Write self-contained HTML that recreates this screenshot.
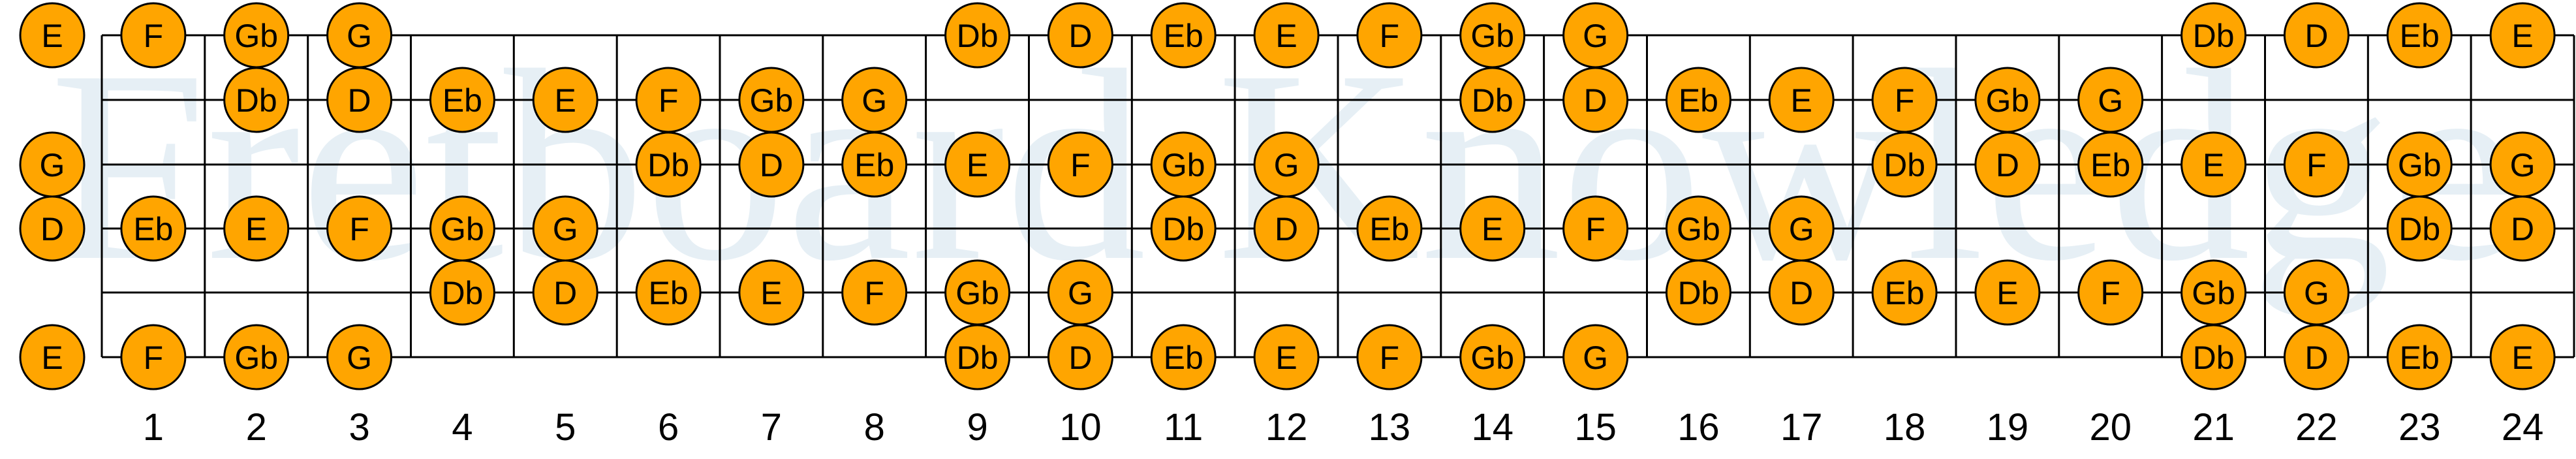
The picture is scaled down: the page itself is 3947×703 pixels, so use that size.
<!DOCTYPE html>
<html><head><meta charset="utf-8"><style>
html,body{margin:0;padding:0;background:#fff}
svg{display:block}
.n circle{fill:#ffa500;stroke:#000;stroke-width:3}
.n text{font-family:"Liberation Sans",sans-serif;font-size:50px;text-anchor:middle;fill:#000}
.num{font-family:"Liberation Sans",sans-serif;font-size:58px;text-anchor:middle;fill:#000}
</style></head><body>
<svg width="3947" height="703" viewBox="0 0 3947 703" xmlns="http://www.w3.org/2000/svg">
<text x="76" y="395" textLength="3780" lengthAdjust="spacingAndGlyphs" font-family="Liberation Serif,serif" font-size="420" fill="#e6eff5">Fretboard Knowledge</text>
<g stroke="#000" stroke-width="3" fill="none">
<path d="M156 54H3944M156 153H3944M156 252H3944M156 350H3944M156 448H3944M156 547H3944"/>
<path d="M156 54V547M313.8 54V547M471.7 54V547M629.5 54V547M787.3 54V547M945.2 54V547M1103 54V547M1260.8 54V547M1418.6 54V547M1576.5 54V547M1734.3 54V547M1892.1 54V547M2050 54V547M2207.8 54V547M2365.6 54V547M2523.5 54V547M2681.3 54V547M2839.1 54V547M2997 54V547M3154.8 54V547M3312.6 54V547M3470.5 54V547M3628.3 54V547M3786.1 54V547M3944 54V547"/>
</g>
<g class="n">
<g transform="translate(80,54)"><circle r="49"/><text y="18">E</text></g>
<g transform="translate(234.9,54)"><circle r="49"/><text y="18">F</text></g>
<g transform="translate(392.7,54)"><circle r="49"/><text y="18">Gb</text></g>
<g transform="translate(550.6,54)"><circle r="49"/><text y="18">G</text></g>
<g transform="translate(1497.6,54)"><circle r="49"/><text y="18">Db</text></g>
<g transform="translate(1655.4,54)"><circle r="49"/><text y="18">D</text></g>
<g transform="translate(1813.2,54)"><circle r="49"/><text y="18">Eb</text></g>
<g transform="translate(1971.1,54)"><circle r="49"/><text y="18">E</text></g>
<g transform="translate(2128.9,54)"><circle r="49"/><text y="18">F</text></g>
<g transform="translate(2286.7,54)"><circle r="49"/><text y="18">Gb</text></g>
<g transform="translate(2444.6,54)"><circle r="49"/><text y="18">G</text></g>
<g transform="translate(3391.6,54)"><circle r="49"/><text y="18">Db</text></g>
<g transform="translate(3549.4,54)"><circle r="49"/><text y="18">D</text></g>
<g transform="translate(3707.2,54)"><circle r="49"/><text y="18">Eb</text></g>
<g transform="translate(3865.1,54)"><circle r="49"/><text y="18">E</text></g>
<g transform="translate(392.7,153)"><circle r="49"/><text y="18">Db</text></g>
<g transform="translate(550.6,153)"><circle r="49"/><text y="18">D</text></g>
<g transform="translate(708.4,153)"><circle r="49"/><text y="18">Eb</text></g>
<g transform="translate(866.2,153)"><circle r="49"/><text y="18">E</text></g>
<g transform="translate(1024.1,153)"><circle r="49"/><text y="18">F</text></g>
<g transform="translate(1181.9,153)"><circle r="49"/><text y="18">Gb</text></g>
<g transform="translate(1339.7,153)"><circle r="49"/><text y="18">G</text></g>
<g transform="translate(2286.7,153)"><circle r="49"/><text y="18">Db</text></g>
<g transform="translate(2444.6,153)"><circle r="49"/><text y="18">D</text></g>
<g transform="translate(2602.4,153)"><circle r="49"/><text y="18">Eb</text></g>
<g transform="translate(2760.2,153)"><circle r="49"/><text y="18">E</text></g>
<g transform="translate(2918.1,153)"><circle r="49"/><text y="18">F</text></g>
<g transform="translate(3075.9,153)"><circle r="49"/><text y="18">Gb</text></g>
<g transform="translate(3233.7,153)"><circle r="49"/><text y="18">G</text></g>
<g transform="translate(80,252)"><circle r="49"/><text y="18">G</text></g>
<g transform="translate(1024.1,252)"><circle r="49"/><text y="18">Db</text></g>
<g transform="translate(1181.9,252)"><circle r="49"/><text y="18">D</text></g>
<g transform="translate(1339.7,252)"><circle r="49"/><text y="18">Eb</text></g>
<g transform="translate(1497.6,252)"><circle r="49"/><text y="18">E</text></g>
<g transform="translate(1655.4,252)"><circle r="49"/><text y="18">F</text></g>
<g transform="translate(1813.2,252)"><circle r="49"/><text y="18">Gb</text></g>
<g transform="translate(1971.1,252)"><circle r="49"/><text y="18">G</text></g>
<g transform="translate(2918.1,252)"><circle r="49"/><text y="18">Db</text></g>
<g transform="translate(3075.9,252)"><circle r="49"/><text y="18">D</text></g>
<g transform="translate(3233.7,252)"><circle r="49"/><text y="18">Eb</text></g>
<g transform="translate(3391.6,252)"><circle r="49"/><text y="18">E</text></g>
<g transform="translate(3549.4,252)"><circle r="49"/><text y="18">F</text></g>
<g transform="translate(3707.2,252)"><circle r="49"/><text y="18">Gb</text></g>
<g transform="translate(3865.1,252)"><circle r="49"/><text y="18">G</text></g>
<g transform="translate(80,350)"><circle r="49"/><text y="18">D</text></g>
<g transform="translate(234.9,350)"><circle r="49"/><text y="18">Eb</text></g>
<g transform="translate(392.7,350)"><circle r="49"/><text y="18">E</text></g>
<g transform="translate(550.6,350)"><circle r="49"/><text y="18">F</text></g>
<g transform="translate(708.4,350)"><circle r="49"/><text y="18">Gb</text></g>
<g transform="translate(866.2,350)"><circle r="49"/><text y="18">G</text></g>
<g transform="translate(1813.2,350)"><circle r="49"/><text y="18">Db</text></g>
<g transform="translate(1971.1,350)"><circle r="49"/><text y="18">D</text></g>
<g transform="translate(2128.9,350)"><circle r="49"/><text y="18">Eb</text></g>
<g transform="translate(2286.7,350)"><circle r="49"/><text y="18">E</text></g>
<g transform="translate(2444.6,350)"><circle r="49"/><text y="18">F</text></g>
<g transform="translate(2602.4,350)"><circle r="49"/><text y="18">Gb</text></g>
<g transform="translate(2760.2,350)"><circle r="49"/><text y="18">G</text></g>
<g transform="translate(3707.2,350)"><circle r="49"/><text y="18">Db</text></g>
<g transform="translate(3865.1,350)"><circle r="49"/><text y="18">D</text></g>
<g transform="translate(708.4,448)"><circle r="49"/><text y="18">Db</text></g>
<g transform="translate(866.2,448)"><circle r="49"/><text y="18">D</text></g>
<g transform="translate(1024.1,448)"><circle r="49"/><text y="18">Eb</text></g>
<g transform="translate(1181.9,448)"><circle r="49"/><text y="18">E</text></g>
<g transform="translate(1339.7,448)"><circle r="49"/><text y="18">F</text></g>
<g transform="translate(1497.6,448)"><circle r="49"/><text y="18">Gb</text></g>
<g transform="translate(1655.4,448)"><circle r="49"/><text y="18">G</text></g>
<g transform="translate(2602.4,448)"><circle r="49"/><text y="18">Db</text></g>
<g transform="translate(2760.2,448)"><circle r="49"/><text y="18">D</text></g>
<g transform="translate(2918.1,448)"><circle r="49"/><text y="18">Eb</text></g>
<g transform="translate(3075.9,448)"><circle r="49"/><text y="18">E</text></g>
<g transform="translate(3233.7,448)"><circle r="49"/><text y="18">F</text></g>
<g transform="translate(3391.6,448)"><circle r="49"/><text y="18">Gb</text></g>
<g transform="translate(3549.4,448)"><circle r="49"/><text y="18">G</text></g>
<g transform="translate(80,547)"><circle r="49"/><text y="18">E</text></g>
<g transform="translate(234.9,547)"><circle r="49"/><text y="18">F</text></g>
<g transform="translate(392.7,547)"><circle r="49"/><text y="18">Gb</text></g>
<g transform="translate(550.6,547)"><circle r="49"/><text y="18">G</text></g>
<g transform="translate(1497.6,547)"><circle r="49"/><text y="18">Db</text></g>
<g transform="translate(1655.4,547)"><circle r="49"/><text y="18">D</text></g>
<g transform="translate(1813.2,547)"><circle r="49"/><text y="18">Eb</text></g>
<g transform="translate(1971.1,547)"><circle r="49"/><text y="18">E</text></g>
<g transform="translate(2128.9,547)"><circle r="49"/><text y="18">F</text></g>
<g transform="translate(2286.7,547)"><circle r="49"/><text y="18">Gb</text></g>
<g transform="translate(2444.6,547)"><circle r="49"/><text y="18">G</text></g>
<g transform="translate(3391.6,547)"><circle r="49"/><text y="18">Db</text></g>
<g transform="translate(3549.4,547)"><circle r="49"/><text y="18">D</text></g>
<g transform="translate(3707.2,547)"><circle r="49"/><text y="18">Eb</text></g>
<g transform="translate(3865.1,547)"><circle r="49"/><text y="18">E</text></g>
</g>
<g class="num">
<text x="234.9" y="674">1</text><text x="392.7" y="674">2</text><text x="550.6" y="674">3</text><text x="708.4" y="674">4</text>
<text x="866.2" y="674">5</text><text x="1024.1" y="674">6</text><text x="1181.9" y="674">7</text><text x="1339.7" y="674">8</text>
<text x="1497.6" y="674">9</text><text x="1655.4" y="674">10</text><text x="1813.2" y="674">11</text><text x="1971.1" y="674">12</text>
<text x="2128.9" y="674">13</text><text x="2286.7" y="674">14</text><text x="2444.6" y="674">15</text><text x="2602.4" y="674">16</text>
<text x="2760.2" y="674">17</text><text x="2918.1" y="674">18</text><text x="3075.9" y="674">19</text><text x="3233.7" y="674">20</text>
<text x="3391.6" y="674">21</text><text x="3549.4" y="674">22</text><text x="3707.2" y="674">23</text><text x="3865.1" y="674">24</text>
</g>
</svg>
</body></html>
